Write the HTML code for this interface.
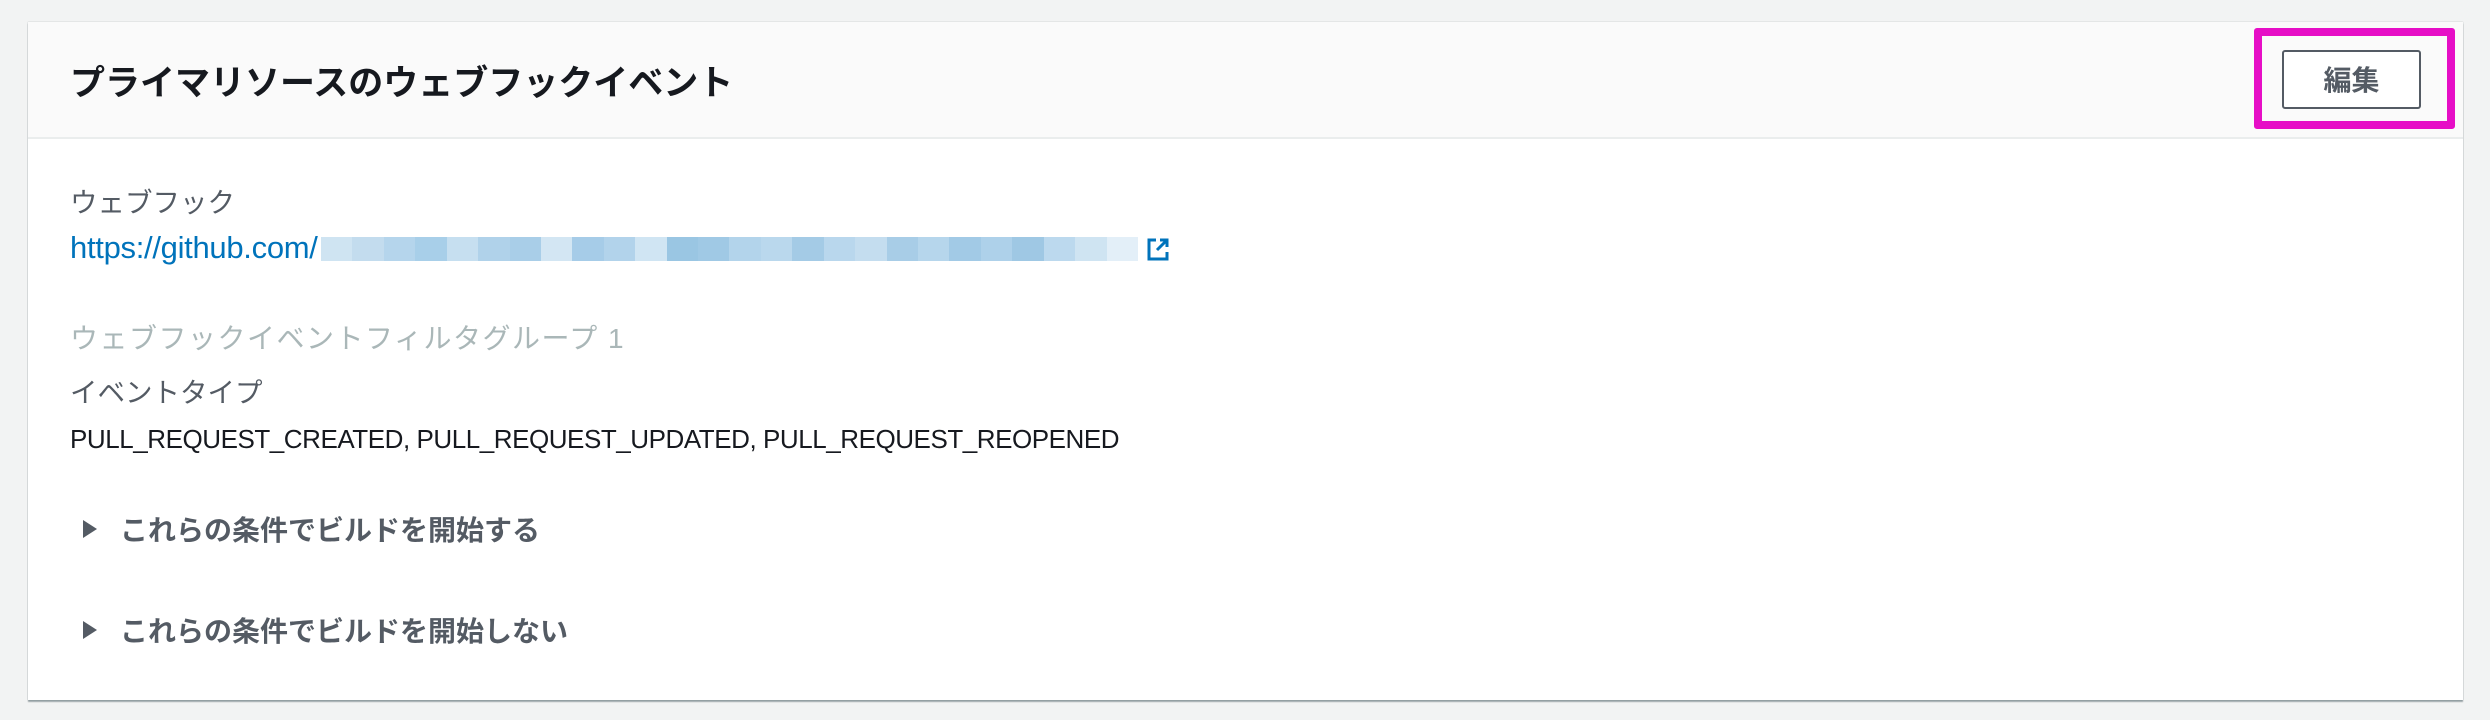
<!DOCTYPE html>
<html><head><meta charset="utf-8"><style>
*{margin:0;padding:0;box-sizing:border-box}
body{width:2490px;height:720px;background:#f2f3f3;position:relative;overflow:hidden;font-family:"Liberation Sans","Noto Sans CJK JP",sans-serif}
.panel{position:absolute;left:28px;top:22px;width:2435px;height:678px;background:#fff;box-shadow:0 2px 1px rgba(0,28,36,.35),0 0 1px rgba(0,28,36,.3)}
.head{position:absolute;left:0;top:0;width:100%;height:117px;background:#fafafa;border-bottom:2px solid #eaeded}
.t{position:absolute;white-space:nowrap}
.blur{position:absolute;left:321px;top:237px;height:24px;width:817px;display:flex}
.blur div{height:100%;flex:1}
</style></head><body>
<div class="panel"><div class="head"></div></div>
<div class="t" style="left:70px;top:55px;font-size:35px;font-weight:bold;color:#16191f">プライマリソースのウェブフックイベント</div>
<div style="position:absolute;left:2254px;top:28px;width:201px;height:101px;border:8px solid #e60ec6;border-radius:3px"></div>
<div style="position:absolute;left:2282px;top:50px;width:139px;height:59px;border:2px solid #545b64;border-radius:3px;background:#fff;color:#545b64;font-weight:bold;font-size:28px;text-align:center;line-height:55px;font-family:'Noto Sans CJK JP',sans-serif">編集</div>
<div class="t" style="left:70px;top:180px;font-size:27.5px;color:#545b64">ウェブフック</div>
<div class="t" style="left:70px;top:230px;font-size:31px;color:#0073bb;letter-spacing:-0.3px">https://github.com/</div>
<div class="blur">
<div style="background:#cfe4f2"></div><div style="background:#c3dcee"></div><div style="background:#b5d5ec"></div><div style="background:#a8cfe9"></div><div style="background:#c6dff0"></div><div style="background:#b0d2ea"></div><div style="background:#a9cee8"></div><div style="background:#d3e6f3"></div><div style="background:#a6cce8"></div><div style="background:#b2d3eb"></div><div style="background:#d0e5f3"></div><div style="background:#9ac6e3"></div><div style="background:#a0c9e5"></div><div style="background:#b3d4eb"></div><div style="background:#bad8ed"></div><div style="background:#a4cbe6"></div><div style="background:#b9d7ed"></div><div style="background:#c4ddef"></div><div style="background:#a8cde7"></div><div style="background:#b6d6ec"></div><div style="background:#a2cae6"></div><div style="background:#aed1ea"></div><div style="background:#9fc8e4"></div><div style="background:#bcd9ee"></div><div style="background:#cfe4f2"></div><div style="background:#e3eff8"></div>
</div>
<svg style="position:absolute;left:1146px;top:237px" width="24" height="25" viewBox="0 0 24 25"><path d="M10 3H3v19h18v-7" fill="none" stroke="#0073bb" stroke-width="3"/><path d="M14 3h7v7M21 3L11 13" fill="none" stroke="#0073bb" stroke-width="3"/></svg>
<div class="t" style="left:70px;top:317px;font-size:28px;letter-spacing:1.5px;color:#aab7b8">ウェブフックイベントフィルタグループ 1</div>
<div class="t" style="left:70px;top:370px;font-size:27.5px;color:#545b64">イベントタイプ</div>
<div class="t" style="left:70px;top:424px;font-size:26px;color:#16191f;letter-spacing:-0.45px">PULL_REQUEST_CREATED, PULL_REQUEST_UPDATED, PULL_REQUEST_REOPENED</div>
<div style="position:absolute;left:83px;top:520px;width:0;height:0;border-left:14px solid #545b64;border-top:9px solid transparent;border-bottom:9px solid transparent"></div>
<div class="t" style="left:120px;top:509px;font-size:28px;font-weight:bold;color:#545b64">これらの条件でビルドを開始する</div>
<div style="position:absolute;left:83px;top:621px;width:0;height:0;border-left:14px solid #545b64;border-top:9px solid transparent;border-bottom:9px solid transparent"></div>
<div class="t" style="left:120px;top:610px;font-size:28px;font-weight:bold;color:#545b64">これらの条件でビルドを開始しない</div>
</body></html>
